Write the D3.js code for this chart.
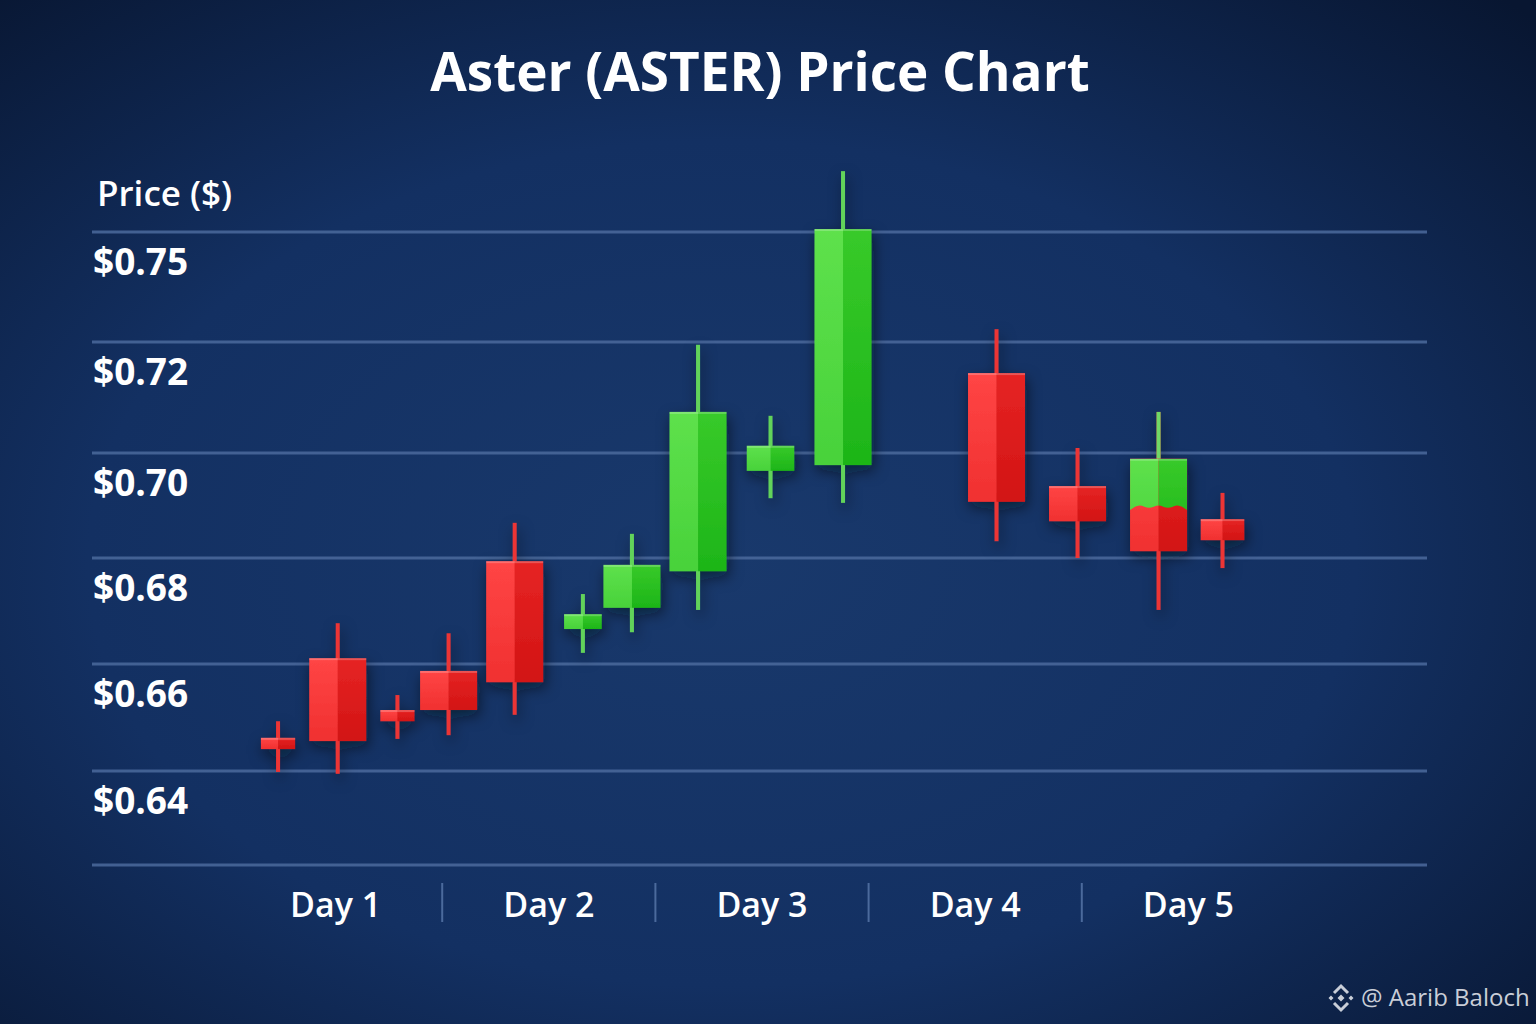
<!DOCTYPE html>
<html>
<head>
<meta charset="utf-8">
<script src="https://cdn.jsdelivr.net/npm/d3@7"></script>
<style>
  html, body { margin: 0; padding: 0; background: #0b1a38; }
  svg { display: block; }
</style>
</head>
<body>
<svg id="chart" width="1536" height="1024"></svg>
<script>
// candle data, time in fractional days from start of Day 1
const times  = [0.23, 0.51, 0.79, 1.03, 1.34, 1.66, 1.89, 2.20, 2.54, 2.88, 3.60, 3.98, 4.36, 4.66]
const opens  = [0.6462, 0.6611, 0.6514, 0.6587, 0.6794, 0.6666, 0.6706, 0.6775, 0.6966, 0.6977, 0.7144, 0.6937, 0.6989, 0.6874]
const highs  = [0.6493, 0.6677, 0.6542, 0.6658, 0.6867, 0.6732, 0.6846, 0.7195, 0.7067, 0.7666, 0.7235, 0.7009, 0.7074, 0.6924]
const lows   = [0.6398, 0.6394, 0.6460, 0.6467, 0.6505, 0.6621, 0.6660, 0.6702, 0.6914, 0.6905, 0.6832, 0.6800, 0.6702, 0.6781]
const closes = [0.6441, 0.6456, 0.6493, 0.6514, 0.6566, 0.6694, 0.6787, 0.7074, 0.7013, 0.7508, 0.6907, 0.6870, 0.6813, 0.6834]
// one candle turned green over its upper part
const splitAt = [null, null, null, null, null, null, null, null, null, null, null, null, 0.6897, null]

const dayLabels = ['Day 1', 'Day 2', 'Day 3', 'Day 4', 'Day 5']
const priceTicks = [0.62, 0.64, 0.66, 0.68, 0.70, 0.72, 0.75]
const tickLabels = ['', '$0.64', '$0.66', '$0.68', '$0.70', '$0.72', '$0.75']

const candles = times.map((t, i) => ({
  t: t, o: opens[i], h: highs[i], l: lows[i], c: closes[i], split: splitAt[i]
}))

const svg = d3.select('#chart')
const W = 1536, H = 1024
const FONT = 'Open Sans, Noto Sans, sans-serif'

const defs = svg.append('defs')
const bg = defs.append('radialGradient').attr('id', 'bg')
  .attr('cx', '47%').attr('cy', '55%').attr('r', '75%')
bg.append('stop').attr('offset', '0%').attr('stop-color', '#19396c')
bg.append('stop').attr('offset', '55%').attr('stop-color', '#133062')
bg.append('stop').attr('offset', '100%').attr('stop-color', '#081631')

const shadow = defs.append('filter').attr('id', 'shadow')
  .attr('x', '-60%').attr('y', '-30%').attr('width', '220%').attr('height', '160%')
shadow.append('feDropShadow').attr('dx', 2).attr('dy', 6).attr('stdDeviation', 7)
  .attr('flood-color', '#000814').attr('flood-opacity', 0.55)

function sideGrad(id, a, b) {
  const g = defs.append('linearGradient').attr('id', id)
    .attr('x1', 0).attr('y1', 0).attr('x2', 0).attr('y2', 1)
  g.append('stop').attr('offset', '0%').attr('stop-color', a)
  g.append('stop').attr('offset', '100%').attr('stop-color', b)
}
sideGrad('redL', '#ff4545', '#f03030')
sideGrad('redR', '#e62424', '#d21414')
sideGrad('grnL', '#5ee14c', '#48d23a')
sideGrad('grnR', '#38ca2a', '#1db518')

svg.append('rect').attr('width', W).attr('height', H).attr('fill', 'url(#bg)')

// scales
const x = d3.scaleLinear().domain([0, 5]).range([229, 1295])
const y = d3.scaleLinear()
  .domain(priceTicks)
  .range([865, 771, 664, 558, 453, 342, 232])

// title
svg.append('text')
  .attr('x', 760).attr('y', 91)
  .attr('text-anchor', 'middle')
  .attr('font-family', FONT)
  .attr('font-weight', 700).attr('font-size', 53)
  .attr('fill', '#ffffff')
  .text('Aster (ASTER) Price Chart')

svg.append('text')
  .attr('x', 97).attr('y', 206)
  .attr('font-family', FONT)
  .attr('font-weight', 600).attr('font-size', 35)
  .attr('fill', '#ffffff')
  .text('Price ($)')

// gridlines
svg.append('g').selectAll('line')
  .data(priceTicks)
  .join('line')
  .attr('x1', 92).attr('x2', 1427)
  .attr('y1', d => y(d)).attr('y2', d => y(d))
  .attr('stroke', '#4b6a9c').attr('stroke-width', 3)
  .attr('stroke-opacity', 0.85)

svg.append('g').selectAll('text')
  .data(priceTicks)
  .join('text')
  .attr('x', 93).attr('y', d => y(d) + 43)
  .attr('font-family', FONT)
  .attr('font-weight', 700).attr('font-size', 37)
  .attr('fill', '#ffffff')
  .text((d, i) => tickLabels[i])

// day axis
svg.append('g').selectAll('line')
  .data(d3.range(1, dayLabels.length))
  .join('line')
  .attr('x1', d => x(d)).attr('x2', d => x(d))
  .attr('y1', 883).attr('y2', 922)
  .attr('stroke', '#4b6a9c').attr('stroke-width', 2)

svg.append('g').selectAll('text')
  .data(dayLabels)
  .join('text')
  .attr('x', (d, i) => x(i + 0.5)).attr('y', 917)
  .attr('text-anchor', 'middle')
  .attr('font-family', FONT)
  .attr('font-weight', 600).attr('font-size', 34)
  .attr('fill', '#ffffff')
  .text(d => d)

// candles
const bodyWidth = d3.scaleLinear().domain([10, 35]).range([33, 57]).clamp(true)

const g = svg.append('g').attr('filter', 'url(#shadow)')

candles.forEach((d, i) => {
  const up = d.c >= d.o && d.split == null
  const cx = x(d.t)
  const top = y(Math.max(d.o, d.c)), bot = y(Math.min(d.o, d.c))
  const bw = bodyWidth(bot - top)
  const cg = g.append('g')

  // wick
  cg.append('rect')
    .attr('x', cx - 2).attr('width', 4)
    .attr('y', y(d.h)).attr('height', y(d.l) - y(d.h))
    .attr('fill', up ? '#62d35a' : '#ec3434')
  if (d.split != null) {
    cg.append('rect')
      .attr('x', cx - 2).attr('width', 4)
      .attr('y', y(d.h)).attr('height', top - y(d.h))
      .attr('fill', '#6fd866')
  }

  const L = up ? 'grnL' : 'redL', R = up ? 'grnR' : 'redR'
  cg.append('rect')
    .attr('x', cx - bw / 2).attr('y', top)
    .attr('width', bw / 2).attr('height', bot - top)
    .attr('fill', `url(#${L})`)
  cg.append('rect')
    .attr('x', cx).attr('y', top)
    .attr('width', bw / 2).attr('height', bot - top)
    .attr('fill', `url(#${R})`)

  // green upper part with a wavy lower edge
  if (d.split != null) {
    const sy = y(d.split)
    const n = 6
    const pts = d3.range(n + 1).map(k => [cx - bw / 2 + k * bw / n, sy + (k % 2 ? -4 : 3)])
    const clipId = 'waveclip' + i
    defs.append('clipPath').attr('id', clipId)
      .append('path')
      .attr('d', d3.line().curve(d3.curveBasis)(pts) +
        ` L${cx + bw / 2},${top} L${cx - bw / 2},${top} Z`)
    const gg = cg.append('g').attr('clip-path', `url(#${clipId})`)
    gg.append('rect').attr('x', cx - bw / 2).attr('y', top)
      .attr('width', bw / 2).attr('height', bot - top).attr('fill', 'url(#grnL)')
    gg.append('rect').attr('x', cx).attr('y', top)
      .attr('width', bw / 2).attr('height', bot - top).attr('fill', 'url(#grnR)')
  }

  // top highlight
  cg.append('rect')
    .attr('x', cx - bw / 2).attr('y', top)
    .attr('width', bw).attr('height', 2)
    .attr('fill', '#ffffff').attr('fill-opacity', 0.22)
})

// watermark
const wm = svg.append('g').attr('transform', 'translate(1341,998)')
const dia = (cx, cy, s) => `M${cx},${cy - s} L${cx + s},${cy} L${cx},${cy + s} L${cx - s},${cy} Z`
wm.append('path').attr('d', dia(0, 0, 3.5) + dia(-10, 0, 2.5) + dia(10, 0, 2.5))
  .attr('fill', '#c9ced8')
wm.append('path')
  .attr('d', 'M-7,-5 L0,-12 L7,-5 M-7,5 L0,12 L7,5')
  .attr('fill', 'none').attr('stroke', '#c9ced8').attr('stroke-width', 3)
wm.append('text')
  .attr('x', 20).attr('y', 8)
  .attr('font-family', FONT)
  .attr('font-size', 24)
  .attr('fill', '#c9ced8')
  .text('@ Aarib Baloch')
</script>
</body>
</html>
